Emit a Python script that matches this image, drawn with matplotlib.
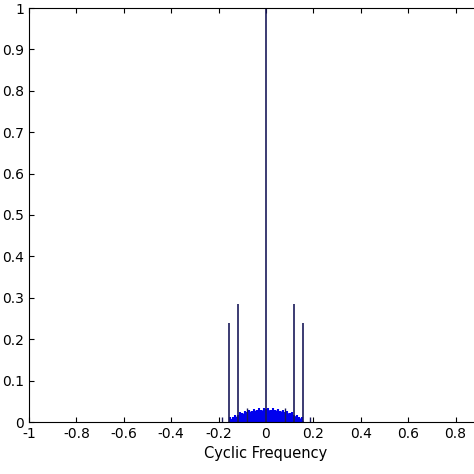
import numpy as np
import matplotlib.pyplot as plt

# main spectral lines
line_freq = [-0.155, -0.12, 0.0, 0.12, 0.155]
line_amp = [0.24, 0.285, 1.0, 0.285, 0.24]

# small side lines
small_freq = [-0.185, -0.08, 0.08, 0.185]
small_amp = [0.012, 0.035, 0.035, 0.012]

# blue continuum envelope (sampled)
cont_freq = [-0.16, -0.15, -0.14, -0.13, -0.12, -0.11, -0.10, -0.09, -0.08, -0.07, -0.06,
             -0.05, -0.04, -0.03, -0.02, -0.01, 0.0, 0.01, 0.02, 0.03, 0.04, 0.05, 0.06,
             0.07, 0.08, 0.09, 0.10, 0.11, 0.12, 0.13, 0.14, 0.15, 0.16]
cont_amp = [0.0, 0.008, 0.011, 0.013, 0.016, 0.019, 0.021, 0.023, 0.024, 0.026, 0.027,
            0.028, 0.029, 0.030, 0.029, 0.030, 0.031, 0.030, 0.029, 0.030, 0.029, 0.028, 0.027,
            0.026, 0.024, 0.023, 0.021, 0.019, 0.016, 0.013, 0.011, 0.008, 0.0]
ripple = [0, 1, -1, 1, -1, 1, -1, 1, -1, 1, -1, 1, -1, 1, -1, 1, 0,
          1, -1, 1, -1, 1, -1, 1, -1, 1, -1, 1, -1, 1, -1, 1, 0]

fig = plt.figure(figsize=(4.74, 4.74), dpi=100)
ax = fig.add_axes([29 / 474, 52 / 474, 474 / 474, 414 / 474])

ax.fill_between(cont_freq, cont_amp, color='#0000ee', lw=0)
ax.vlines(cont_freq, 0, np.array(cont_amp) + 0.004 * np.array(ripple).clip(0), color='#0000ee', lw=1.5)
ax.vlines(line_freq, 0, line_amp, color='#1a1a5a', lw=1.2)
ax.vlines(small_freq, 0, small_amp, color='#1a1a5a', lw=1)

ax.set_xlim(-1, 1)
ax.set_ylim(0, 1)
ax.set_xticks(np.arange(-1, 0.95, 0.2))
ax.set_xticklabels(['-1', '-0.8', '-0.6', '-0.4', '-0.2', '0', '0.2', '0.4', '0.6', '0.8'])
ax.set_yticks(np.arange(0, 1.01, 0.1))
ax.set_yticklabels(['0', '0.1', '0.2', '0.3', '0.4', '0.5', '0.6', '0.7', '0.8', '0.9', '1'])
ax.tick_params(direction='in', labelsize=10, top=True, right=True)
ax.set_xlabel('Cyclic Frequency', fontsize=10.5)
fig.savefig('out.png', dpi=100)
